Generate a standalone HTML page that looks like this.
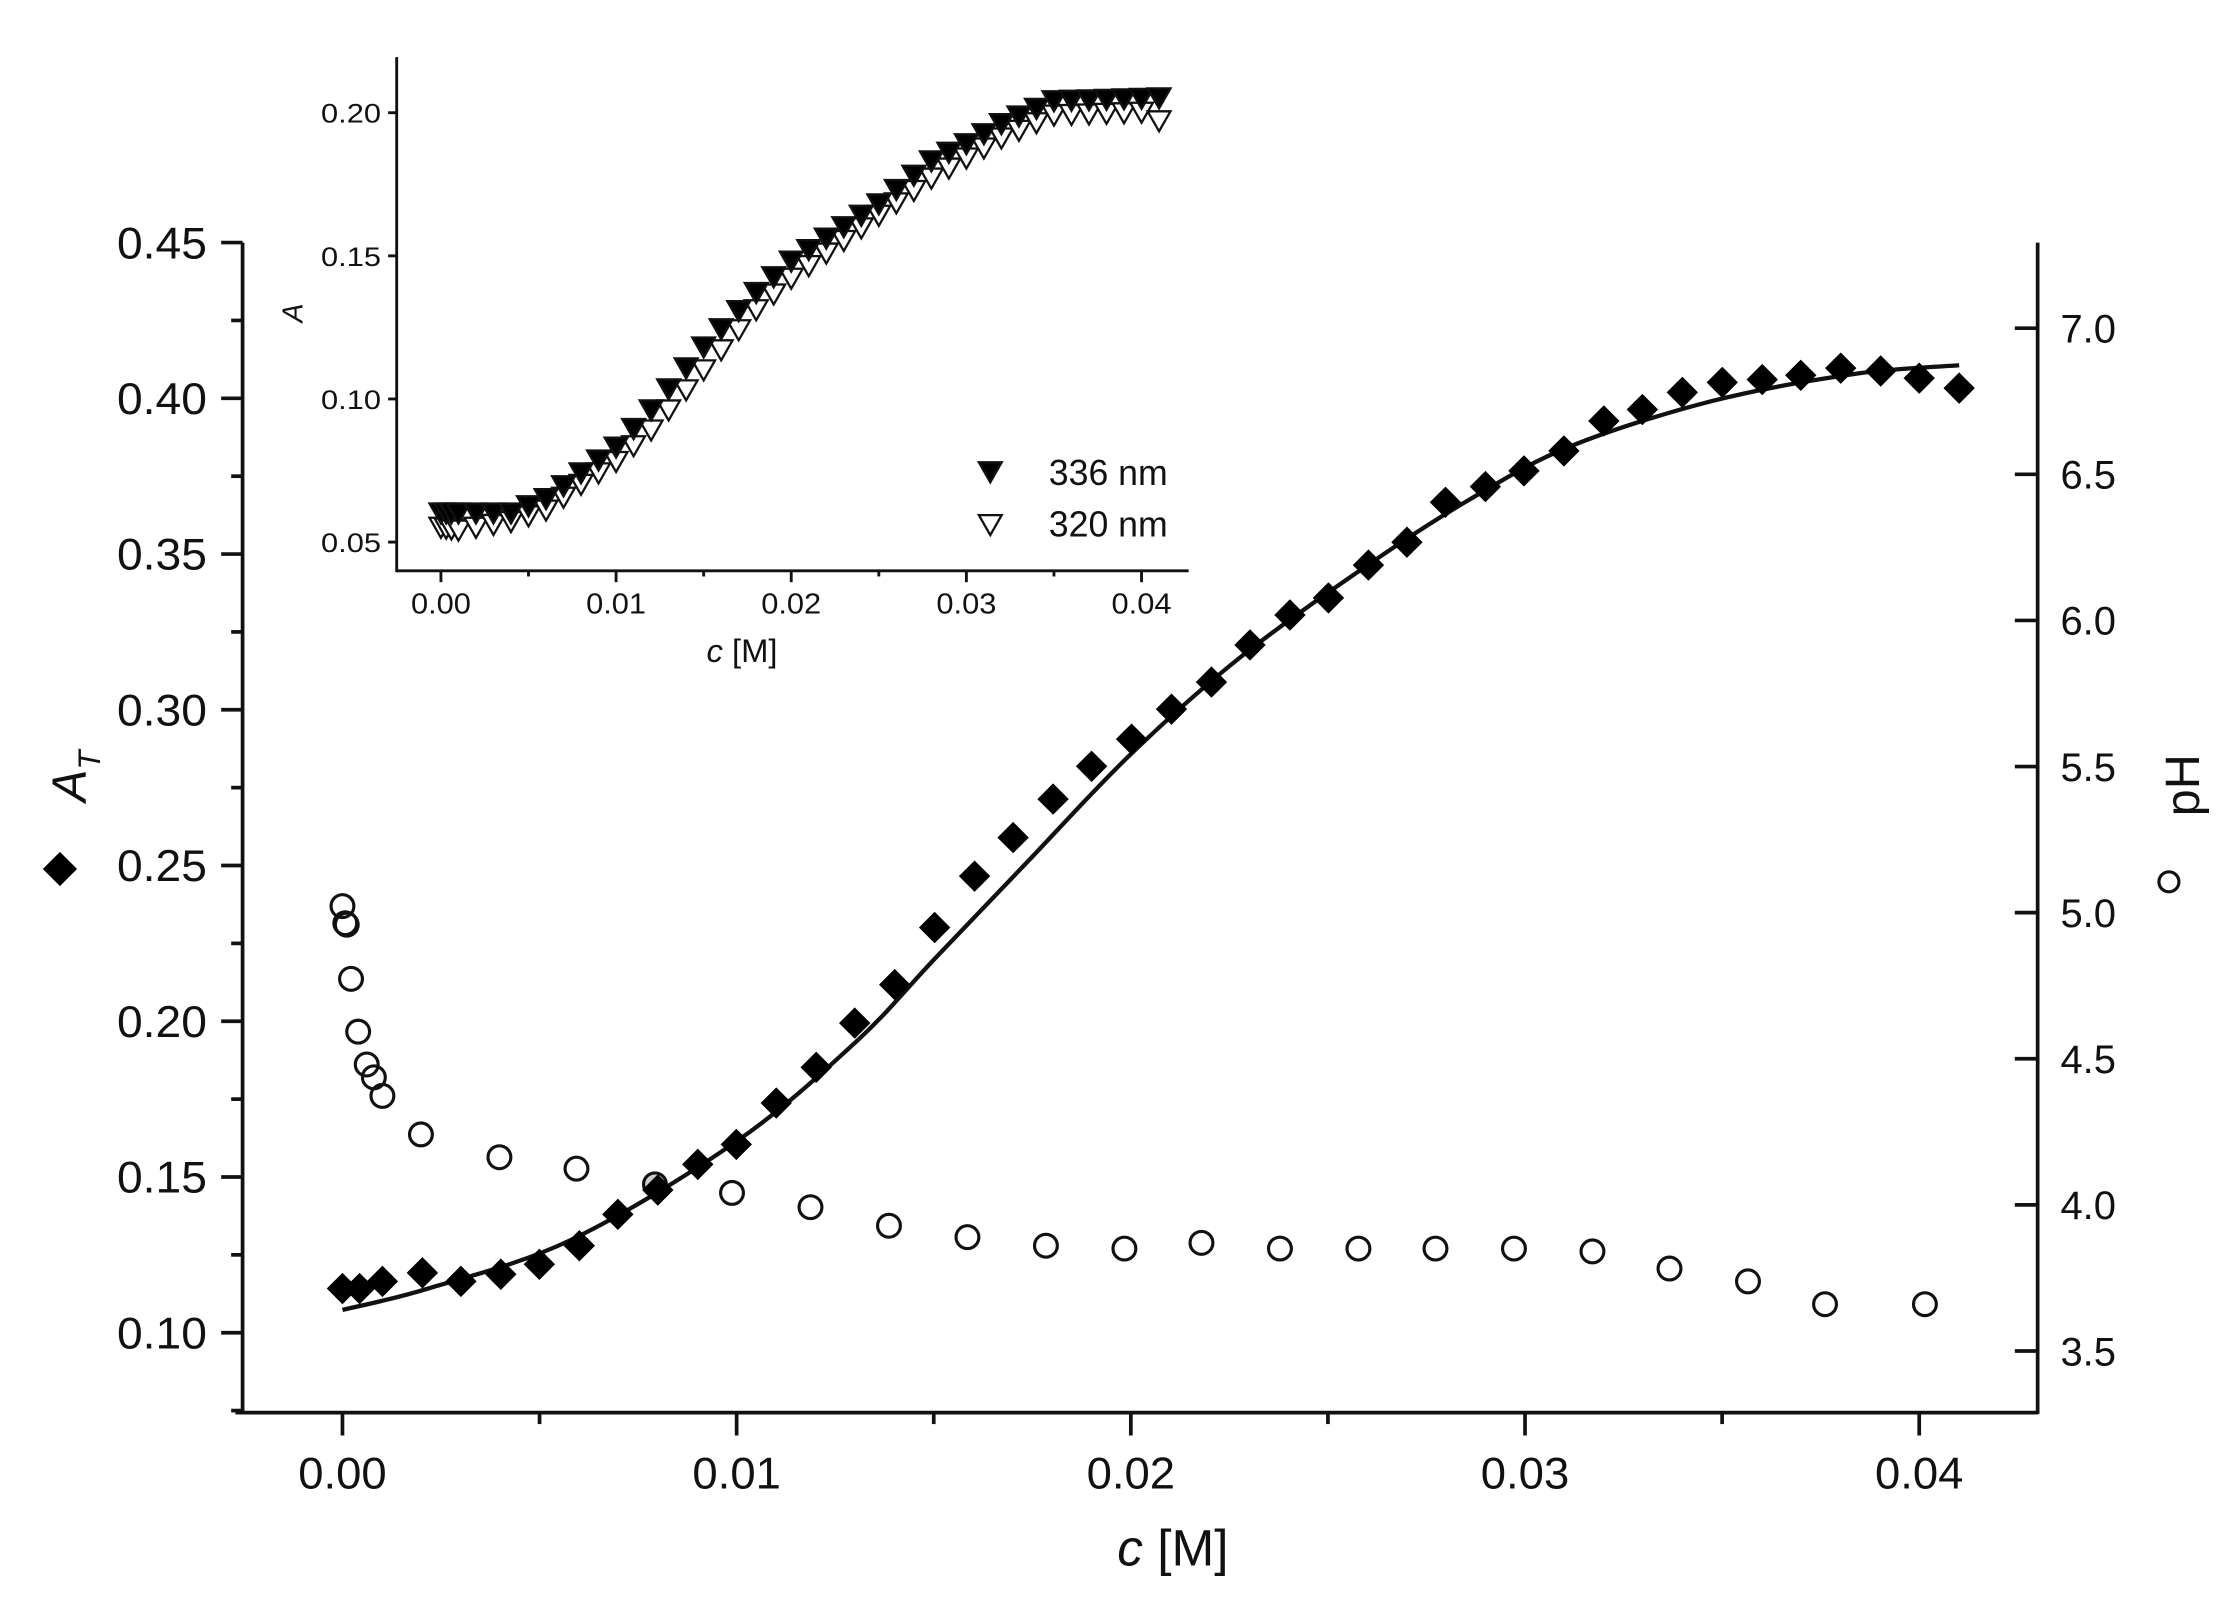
<!DOCTYPE html>
<html><head><meta charset="utf-8"><style>
html,body{margin:0;padding:0;background:#fff;}
svg{display:block;}
text{font-family:"Liberation Sans",Arial,sans-serif;fill:#111;}
</style></head><body>
<svg id="s" width="2226" height="1615" viewBox="0 0 1560 1131.8" preserveAspectRatio="none" xmlns="http://www.w3.org/2000/svg">
<rect width="1560" height="1131.8" fill="#fff"/>
<g id="g" stroke="#111" stroke-width="2.6" fill="none"></g>
<g id="t"></g>
</svg>
<script>
const NS="http://www.w3.org/2000/svg";
const g=document.getElementById('g'), t=document.getElementById('t');
function el(tag,attrs,parent,txt){const e=document.createElementNS(NS,tag);for(const k in attrs)e.setAttribute(k,attrs[k]);if(txt!==undefined)e.textContent=txt;(parent||g).appendChild(e);return e;}
function line(x1,y1,x2,y2,w){el('line',{x1,y1,x2,y2,'stroke-width':w||2.6});}
// main axes
line(170,170,170,991);line(165,990,1428,990);line(1428,170,1428,991);
const X=c=>240+c*27625;
for(let i=0;i<=8;i++){const x=X(i*0.005);line(x,990,x,i%2?998:1006);}
['0.00','0.01','0.02','0.03','0.04'].forEach((s,i)=>el('text',{x:X(i*0.01),y:1043,'font-size':31,'text-anchor':'middle',textLength:62,lengthAdjust:'spacingAndGlyphs'},t,s));
const Y=v=>170+(0.45-v)/0.05*109.14;
for(let i=0;i<=15;i++){const v=0.075+i*0.025;const y=Y(v);if(y<169)continue;const maj=Math.abs((v/0.05)-Math.round(v/0.05))<1e-6;line(maj?155:162,y,170,y);}
for(let i=0;i<8;i++){const v=0.10+i*0.05;el('text',{x:145,y:Y(v)+11,'font-size':31,'text-anchor':'end',textLength:63,lengthAdjust:'spacingAndGlyphs'},t,v.toFixed(2));}
const P=p=>230+(7.0-p)/0.5*102.4;
for(let i=0;i<8;i++){const p=3.5+i*0.5;line(1412,P(p),1428,P(p));el('text',{x:1444,y:P(p)+10,'font-size':28},t,p.toFixed(1));}
el('text',{x:0,y:0,'font-size':34,transform:'translate(60,562) rotate(-90)'},t).innerHTML='<tspan font-style="italic">A</tspan><tspan font-size="22" font-style="italic" dy="10">T</tspan>';
el('path',{d:'M42,597 L54,609 L42,621 L30,609Z',fill:'#000',stroke:'none'});
el('text',{x:0,y:0,'font-size':34,transform:'translate(1541,572) rotate(-90)'},t,'pH');
el('circle',{cx:1520,cy:618,r:7,'stroke-width':2.2});
el('text',{x:822,y:1097,'font-size':36,'text-anchor':'middle'},t).innerHTML='<tspan font-style="italic">c</tspan> [M]';
// fit curve (catmull-rom)
const fp=[[240,918],[300,903],[400,869],[516,800],[600,730],[655,672],[720,604],[793,528],[870,460],[960,395],[1030,350],[1100,313],[1200,281],[1300,262],[1373,256]];
let d=`M${fp[0][0]},${fp[0][1]}`;
for(let i=0;i<fp.length-1;i++){const p0=fp[Math.max(0,i-1)],p1=fp[i],p2=fp[i+1],p3=fp[Math.min(fp.length-1,i+2)];
d+=` C${p1[0]+(p2[0]-p0[0])/6},${p1[1]+(p2[1]-p0[1])/6} ${p2[0]-(p3[0]-p1[0])/6},${p2[1]-(p3[1]-p1[1])/6} ${p2[0]},${p2[1]}`;}
el('path',{d,'stroke-width':3});
[[240,635],[242,647],[243,648],[246,686],[251,723],[257,746],[262,755],[268,768],[295,795],[350,811],[404,819],[459,830],[513,836],[568,846],[623,859],[678,867],[733,873],[788,875],[842,871],[897,875],[952,875],[1006,875],[1061,875],[1116,877],[1170,889],[1225,898],[1279,914],[1349,914]].forEach(p=>el('circle',{cx:p[0],cy:p[1],r:8,'stroke-width':2.2,fill:(p[0]==459?'#ccc':'none')}));
[[240,903],[252,903],[268,898],[296,892],[323,898],[351,893],[378,886],[406,873],[433,851],[461,834],[489,816],[516,802],[544,773],[572,748],[599,717],[627,690],[655,650],[683,614],[710,587],[738,560],[765,537],[793,518],[821,497],[849,478],[876,452],[904,431],[931,419],[959,396],[986,380],[1013,352],[1041,341],[1068,330],[1096,316],[1124,295],[1151,287],[1179,275],[1207,268],[1235,266],[1262,263],[1290,258],[1318,260],[1345,265],[1373,272]].forEach(p=>el('path',{d:`M${p[0]},${p[1]-11} L${p[0]+11},${p[1]} L${p[0]},${p[1]+11} L${p[0]-11},${p[1]}Z`,fill:'#000',stroke:'none'}));
// inset
line(278,40,278,401,2);line(278,400,833,400,2);
const IX=c=>309+c*12275, IY=v=>79+(0.20-v)/0.05*100.3;
for(let i=0;i<=8;i++){const x=IX(i*0.005);line(x,400,x,i%2?404:408,2);}
['0.00','0.01','0.02','0.03','0.04'].forEach((s,i)=>el('text',{x:IX(i*0.01),y:430,'font-size':20,'text-anchor':'middle',textLength:42,lengthAdjust:'spacingAndGlyphs'},t,s));
for(let i=0;i<4;i++){const v=0.05+i*0.05;line(272,IY(v),278,IY(v),2);el('text',{x:267,y:IY(v)+7,'font-size':19,'text-anchor':'end',textLength:42,lengthAdjust:'spacingAndGlyphs'},t,v.toFixed(2));}
el('text',{x:0,y:0,'font-size':20,'font-style':'italic',transform:'translate(212,226) rotate(-90)'},t,'A');
el('text',{x:520,y:464,'font-size':23,'text-anchor':'middle'},t).innerHTML='<tspan font-style="italic">c</tspan> [M]';
function interp(tab,c){for(let i=0;i<tab.length-1;i++){if(c<=tab[i+1][0]){const f=(c-tab[i][0])/(tab[i+1][0]-tab[i][0]);return tab[i][1]+f*(tab[i+1][1]-tab[i][1]);}}return tab[tab.length-1][1];}
const FT=[[0,0.060],[0.004,0.060],[0.006,0.065],[0.008,0.074],[0.010,0.083],[0.012,0.096],[0.015,0.118],[0.018,0.137],[0.020,0.148],[0.025,0.168],[0.028,0.183],[0.030,0.189],[0.032,0.196],[0.035,0.204],[0.041,0.205]];
const OT=[[0,0.055],[0.001,0.054],[0.004,0.057],[0.006,0.061],[0.008,0.070],[0.010,0.078],[0.012,0.089],[0.015,0.110],[0.018,0.131],[0.020,0.142],[0.025,0.164],[0.028,0.177],[0.030,0.184],[0.032,0.191],[0.035,0.199],[0.040,0.200],[0.041,0.197]];
function tri(x,y,fill){el('path',{d:`M${x-8},${y-7} L${x+8},${y-7} L${x},${y+7}Z`,fill:fill,'stroke-width':1.6});}
const cs=[0,0.0003,0.0006,0.001];for(let c=0.002;c<=0.0411;c+=0.001)cs.push(c);
cs.forEach(c=>tri(IX(c),IY(interp(OT,c)),'#fff'));
cs.forEach(c=>tri(IX(c),IY(interp(FT,c)),'#000'));
tri(694,331,'#000');tri(694,368,'#fff');
el('text',{x:735,y:340,'font-size':25},t,'336 nm');
el('text',{x:735,y:376,'font-size':25},t,'320 nm');
</script>
</body></html>
